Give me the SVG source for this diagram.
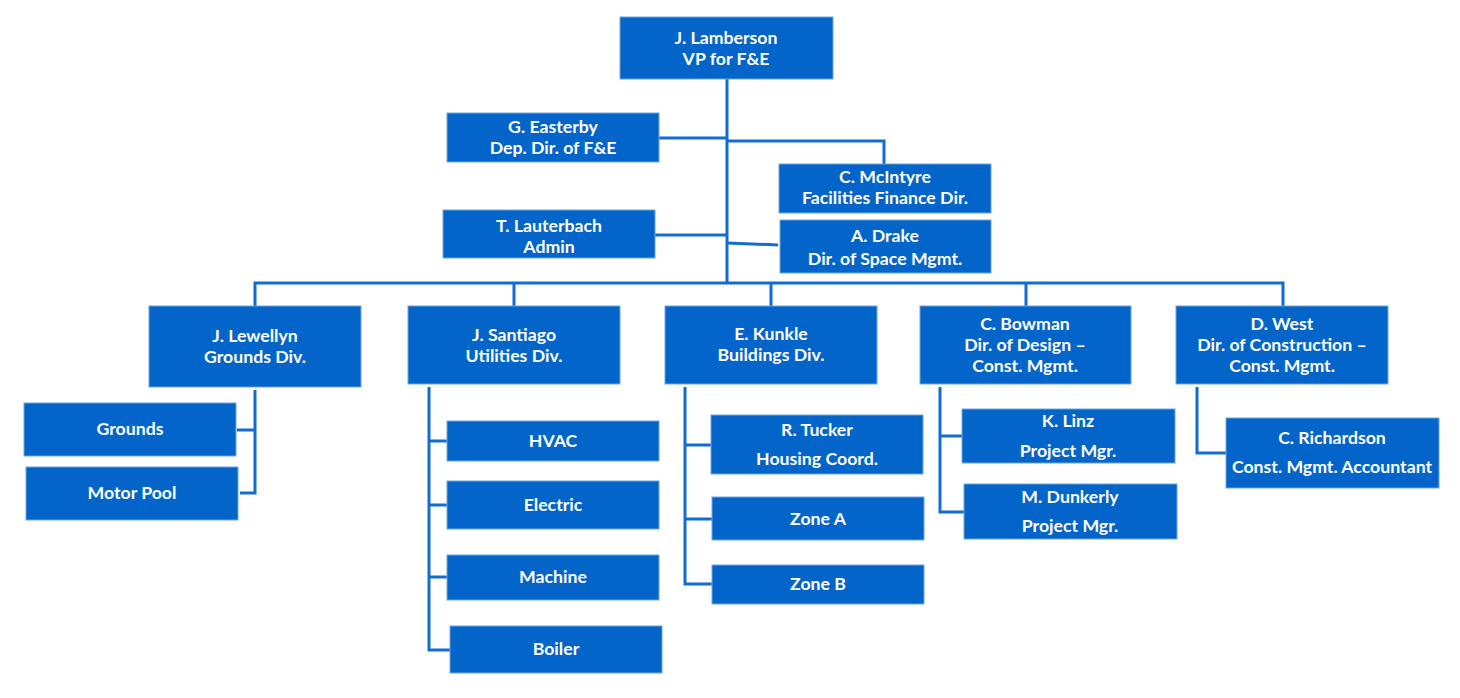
<svg xmlns="http://www.w3.org/2000/svg" width="1460" height="698" viewBox="0 0 1460 698">
<style>
.b{fill:#0364C9;stroke:#6EA6DE;stroke-width:1}
.t{fill:#ffffff;font-family:Lato,"Open Sans","Liberation Sans",sans-serif;font-weight:700;font-size:17.7px;text-anchor:middle}
.c{fill:none;stroke:#136DD0;stroke-width:3}
</style>
<rect width="1460" height="698" fill="#ffffff"/>
<g id="connectors">
<path class="c" d="M727,79V283"/>
<path class="c" d="M659,138H727"/>
<path class="c" d="M727,141H884V164"/>
<path class="c" d="M655,235H727"/>
<path class="c" d="M727,243L778,245"/>
<path class="c" d="M255,306V283H1283V306"/>
<path class="c" d="M514,283V306M771,283V306M1026,283V306"/>
<path class="c" d="M255,390V493H240M237,430H255"/>
<path class="c" d="M429,387V650H450M429,441H447M429,505H447M429,577H447"/>
<path class="c" d="M685,387V584H712M685,445H711M685,519H712"/>
<path class="c" d="M940,387V512H964M940,436H962"/>
<path class="c" d="M1197,387V453H1226"/>
</g>
<g id="lamberson"><rect class="b" x="620" y="17" width="213" height="62"/><text class="t" x="726" y="44">J. Lamberson</text><text class="t" x="726" y="65">VP for F&amp;E</text></g>
<g id="easterby"><rect class="b" x="447" y="113" width="212" height="49"/><text class="t" x="553" y="133">G. Easterby</text><text class="t" x="553" y="154">Dep. Dir. of F&amp;E</text></g>
<g id="mcintyre"><rect class="b" x="779" y="164" width="212" height="49"/><text class="t" x="885" y="183">C. McIntyre</text><text class="t" x="885" y="204">Facilities Finance Dir.</text></g>
<g id="lauterbach"><rect class="b" x="443" y="210" width="212" height="48"/><text class="t" x="549" y="232">T. Lauterbach</text><text class="t" x="549" y="253">Admin</text></g>
<g id="drake"><rect class="b" x="780" y="220" width="211" height="53"/><text class="t" x="885" y="242">A. Drake</text><text class="t" x="885" y="265">Dir. of Space Mgmt.</text></g>
<g id="lewellyn"><rect class="b" x="149" y="306" width="212" height="81"/><text class="t" x="255" y="342">J. Lewellyn</text><text class="t" x="255" y="363">Grounds Div.</text></g>
<g id="santiago"><rect class="b" x="408" y="306" width="212" height="78"/><text class="t" x="514" y="341">J. Santiago</text><text class="t" x="514" y="362">Utilities Div.</text></g>
<g id="kunkle"><rect class="b" x="665" y="306" width="212" height="78"/><text class="t" x="771" y="340">E. Kunkle</text><text class="t" x="771" y="361">Buildings Div.</text></g>
<g id="bowman"><rect class="b" x="920" y="306" width="211" height="78"/><text class="t" x="1025" y="330">C. Bowman</text><text class="t" x="1025" y="351">Dir. of Design –</text><text class="t" x="1025" y="372">Const. Mgmt.</text></g>
<g id="west"><rect class="b" x="1176" y="306" width="212" height="78"/><text class="t" x="1282" y="330">D. West</text><text class="t" x="1282" y="351">Dir. of Construction –</text><text class="t" x="1282" y="372">Const. Mgmt.</text></g>
<g id="grounds"><rect class="b" x="24" y="403" width="212" height="53"/><text class="t" x="130" y="435">Grounds</text></g>
<g id="motorpool"><rect class="b" x="26" y="467" width="212" height="53"/><text class="t" x="132" y="499">Motor Pool</text></g>
<g id="hvac"><rect class="b" x="447" y="421" width="212" height="40"/><text class="t" x="553" y="447">HVAC</text></g>
<g id="electric"><rect class="b" x="447" y="481" width="212" height="48"/><text class="t" x="553" y="511">Electric</text></g>
<g id="machine"><rect class="b" x="447" y="555" width="212" height="45"/><text class="t" x="553" y="583">Machine</text></g>
<g id="boiler"><rect class="b" x="450" y="626" width="212" height="47"/><text class="t" x="556" y="655">Boiler</text></g>
<g id="tucker"><rect class="b" x="711" y="415" width="212" height="59"/><text class="t" x="817" y="436">R. Tucker</text><text class="t" x="817" y="465">Housing Coord.</text></g>
<g id="zonea"><rect class="b" x="712" y="497" width="212" height="43"/><text class="t" x="818" y="525">Zone A</text></g>
<g id="zoneb"><rect class="b" x="712" y="565" width="212" height="39"/><text class="t" x="818" y="590">Zone B</text></g>
<g id="linz"><rect class="b" x="962" y="409" width="213" height="54"/><text class="t" x="1068" y="427">K. Linz</text><text class="t" x="1068" y="457">Project Mgr.</text></g>
<g id="dunkerly"><rect class="b" x="964" y="484" width="213" height="55"/><text class="t" x="1070" y="503">M. Dunkerly</text><text class="t" x="1070" y="532">Project Mgr.</text></g>
<g id="richardson"><rect class="b" x="1226" y="418" width="213" height="70"/><text class="t" x="1332" y="444">C. Richardson</text><text class="t" x="1332" y="473">Const. Mgmt. Accountant</text></g>
</svg>
